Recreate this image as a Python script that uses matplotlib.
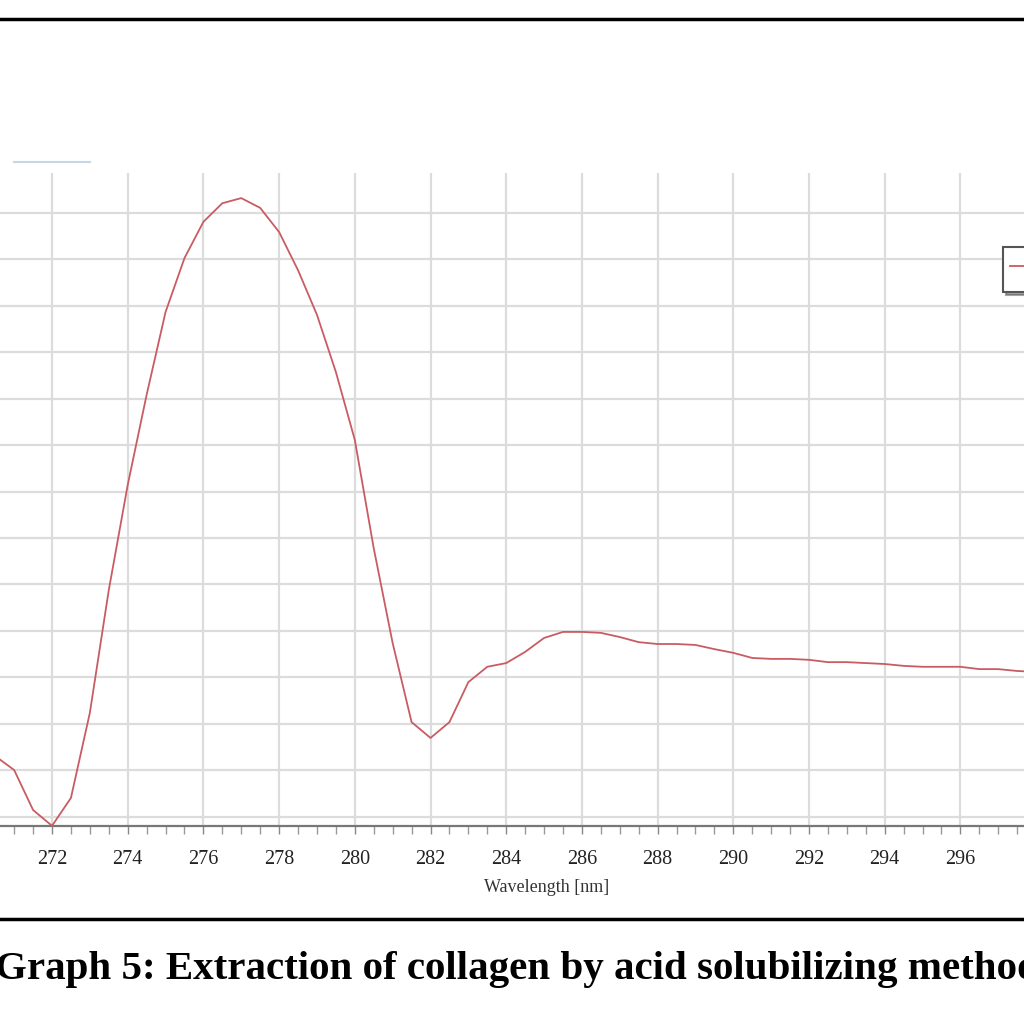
import matplotlib
matplotlib.use("Agg")
import matplotlib.pyplot as plt
from matplotlib.lines import Line2D
from matplotlib.ticker import MultipleLocator

# Data (wavelength in nm, absorbance in arbitrary units)
wavelength = [270.5, 271.0, 271.5, 272.0, 272.5, 273.0, 273.5, 274.0, 274.5, 275.0,
              275.5, 276.0, 276.5, 277.0, 277.5, 278.0, 278.5, 279.0, 279.5, 280.0,
              280.5, 281.0, 281.5, 282.0, 282.5, 283.0, 283.5, 284.0, 284.5, 285.0,
              285.5, 286.0, 286.5, 287.0, 287.5, 288.0, 288.5, 289.0, 289.5, 290.0,
              290.5, 291.0, 291.5, 292.0, 292.5, 293.0, 293.5, 294.0, 294.5, 295.0,
              295.5, 296.0, 296.5, 297.0, 297.5, 298.0]
absorbance = [0.131, 0.101, 0.015, -0.019, 0.041, 0.224, 0.488, 0.714, 0.908, 1.086,
              1.202, 1.280, 1.320, 1.331, 1.310, 1.258, 1.176, 1.080, 0.957, 0.811,
              0.578, 0.374, 0.204, 0.170, 0.204, 0.290, 0.323, 0.331, 0.355, 0.385,
              0.398, 0.398, 0.396, 0.387, 0.376, 0.372, 0.372, 0.370, 0.361, 0.353,
              0.342, 0.340, 0.340, 0.338, 0.333, 0.333, 0.331, 0.329, 0.325, 0.323,
              0.323, 0.323, 0.318, 0.318, 0.314, 0.312]
x_ticks = [272, 274, 276, 278, 280, 282, 284, 286, 288, 290, 292, 294, 296]
series_label = "Sample"
x_label = "Wavelength [nm]"
caption = "Graph 5: Extraction of collagen by acid solubilizing method"

W = H = 1024
fig = plt.figure(figsize=(10.24, 10.24), dpi=100)

def fy(py):
    return 1 - py / H

ax = fig.add_axes([0, fy(826), 1, fy(173) - fy(826)])
ax.plot(wavelength, absorbance, color="#c95c62", lw=1.3, label=series_label,
        clip_on=False, zorder=3)
ax.set_xticks(x_ticks)
ax.set_xlim(270.626, 297.68)
ax.set_ylim(-0.0194, 1.385)
ax.xaxis.set_minor_locator(MultipleLocator(0.5))
ax.yaxis.set_major_locator(MultipleLocator(0.1))
ax.set_yticklabels([])
ax.tick_params(axis="y", length=0)
ax.grid(True, color="#dcdcdc", lw=1.6)
ax.set_axisbelow(True)
for s in ["top", "right", "left"]:
    ax.spines[s].set_visible(False)
ax.spines["bottom"].set_color("#777777")
ax.spines["bottom"].set_linewidth(1.6)
ax.tick_params(axis="x", which="major", length=6, width=1, color="#888888",
               pad=11, labelsize=14.5)
ax.tick_params(axis="x", which="minor", length=6, width=1, color="#999999")
for lab in ax.get_xticklabels():
    lab.set_family("Liberation Serif")
    lab.set_color("#222222")
ax.set_xlabel(x_label, family="Liberation Serif", fontsize=13, color="#333333")
ax.xaxis.set_label_coords(547 / W, -(879 - 826) / (826 - 173))

leg = ax.legend(loc="upper left", bbox_to_anchor=(1003 / W, fy(247)),
                bbox_transform=fig.transFigure, borderaxespad=0,
                frameon=True, fancybox=False, shadow=True, handlelength=2.0,
                borderpad=0.22, prop={"family": "Liberation Serif", "size": 24})
leg.get_frame().set_edgecolor("#555555")
leg.get_frame().set_linewidth(1.5)

# decorative lines of the reference frame
fig.add_artist(Line2D([0, 1], [fy(19), fy(19)], color="black", lw=2.5,
                      transform=fig.transFigure))
fig.add_artist(Line2D([0, 1], [fy(919), fy(919)], color="black", lw=2.5,
                      transform=fig.transFigure))
fig.add_artist(Line2D([14 / W, 90 / W], [fy(162), fy(162)], color="#c6d6e6", lw=1.5,
                      transform=fig.transFigure))

fig.text(517 / W, fy(970), caption, ha="center", va="center",
         family="Liberation Serif", fontweight="bold", fontsize=29.5)

fig.savefig("out.png", dpi=100)
